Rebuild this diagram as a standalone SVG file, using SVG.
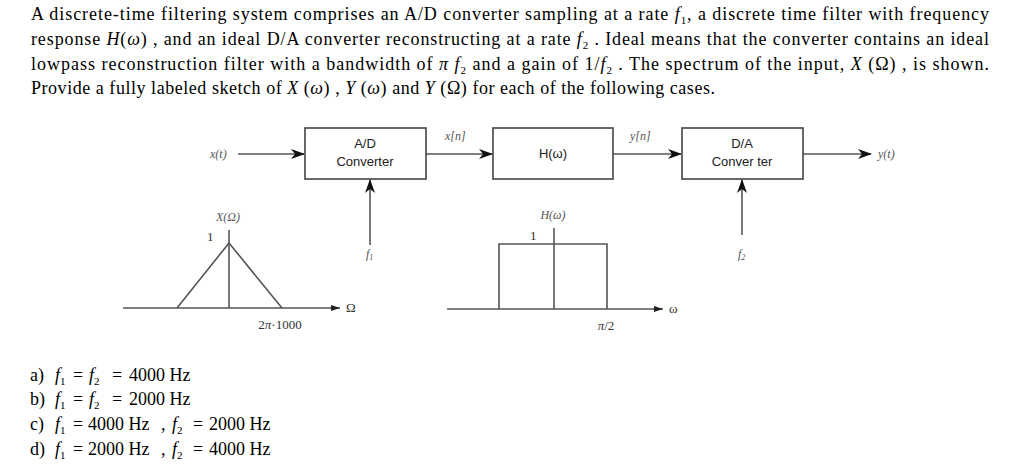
<svg xmlns="http://www.w3.org/2000/svg" width="1024" height="475" viewBox="0 0 1024 475">
<style>
.t{font-family:"Liberation Serif","Times New Roman",serif;font-size:18px;fill:#000}
.i{font-style:italic}
.s{font-size:11px}
.lb{font-family:"Liberation Sans",Arial,sans-serif;font-size:13px;fill:#222}
.il{font-family:"Liberation Serif",serif;font-style:italic;font-size:12px;fill:#555}
.nm{font-family:"Liberation Serif",serif;font-size:13px;fill:#333}
.ln{stroke:#555;stroke-width:1.6;fill:none}
.bx{stroke:#444;stroke-width:1.6;fill:#fff}
</style>
<defs>
<marker id="ah" markerWidth="14" markerHeight="10" refX="13" refY="5" orient="auto" markerUnits="userSpaceOnUse">
<path d="M0,0 L14,5 L0,10 L4,5 Z" fill="#111"/>
</marker>
<marker id="sa" markerWidth="9" markerHeight="6" refX="9" refY="3" orient="auto" markerUnits="userSpaceOnUse">
<path d="M0,0 L9,3 L0,6 Z" fill="#222"/>
</marker>
</defs>
<rect width="1024" height="475" fill="#fff"/>
<g id="problem-text">
<text class="t" x="31" y="20" textLength="958" lengthAdjust="spacing">A discrete-time filtering system comprises an A/D converter sampling at a rate <tspan class="i">f</tspan><tspan class="s" dy="4">1</tspan><tspan dy="-4">, a discrete time filter with frequency</tspan></text>
<text class="t" x="31" y="45" textLength="958" lengthAdjust="spacing">response <tspan class="i">H</tspan>(<tspan class="i">ω</tspan>) , and an ideal D/A converter reconstructing at a rate <tspan class="i">f</tspan><tspan class="s" dy="4">2</tspan><tspan dy="-4"> . Ideal means that the converter contains an ideal</tspan></text>
<text class="t" x="31" y="70" textLength="958" lengthAdjust="spacing">lowpass reconstruction filter with a bandwidth of <tspan class="i">π f</tspan><tspan class="s" dy="4">2</tspan><tspan dy="-4"> and a gain of 1/</tspan><tspan class="i">f</tspan><tspan class="s" dy="4">2</tspan><tspan dy="-4"> . The spectrum of the input, </tspan><tspan class="i">X</tspan> (Ω) , is shown.</text>
<text class="t" x="31" y="94" textLength="684" lengthAdjust="spacing">Provide a fully labeled sketch of <tspan class="i">X</tspan> (<tspan class="i">ω</tspan>) , <tspan class="i">Y</tspan> (<tspan class="i">ω</tspan>) and <tspan class="i">Y</tspan> (Ω) for each of the following cases.</text>
</g>
<g id="connectors">
<line class="ln" x1="238" y1="154" x2="304" y2="154" marker-end="url(#ah)"/>
<line class="ln" x1="426" y1="154" x2="492" y2="154" marker-end="url(#ah)"/>
<line class="ln" x1="613" y1="154" x2="681" y2="154" marker-end="url(#ah)"/>
<line class="ln" x1="803" y1="154" x2="871" y2="154" marker-end="url(#ah)"/>
<line class="ln" x1="370" y1="245" x2="370" y2="180" marker-end="url(#ah)"/>
<line class="ln" x1="742" y1="235" x2="742" y2="180" marker-end="url(#ah)"/>
</g>
<g id="ad-converter">
<rect class="bx" x="305" y="128" width="121" height="51"/>
<text class="lb" x="365" y="148" text-anchor="middle">A/D</text>
<text class="lb" x="365" y="166" text-anchor="middle">Converter</text>
</g>
<g id="filter">
<rect class="bx" x="493" y="128" width="120" height="51"/>
<text class="lb" x="553" y="158" text-anchor="middle">H(ω)</text>
</g>
<g id="da-converter">
<rect class="bx" x="682" y="128" width="121" height="51"/>
<text class="lb" x="742" y="148" text-anchor="middle">D/A</text>
<text class="lb" x="742" y="166" text-anchor="middle">Conver ter</text>
</g>
<g id="signal-labels">
<text class="il" x="210" y="158">x(t)</text>
<text class="il" x="445" y="140">x[n]</text>
<text class="il" x="630" y="140">y[n]</text>
<text class="il" x="878" y="158">y(t)</text>
<text class="il" x="366" y="258">f<tspan font-size="8" dy="2">1</tspan></text>
<text class="il" x="738" y="258">f<tspan font-size="8" dy="2">2</tspan></text>
</g>
<g id="x-spectrum">
<line class="ln" x1="123" y1="308" x2="340" y2="308" marker-end="url(#sa)"/>
<line class="ln" x1="229" y1="230" x2="229" y2="308"/>
<polyline class="ln" stroke="#333" points="177,308 229,243 282,308"/>
<text class="il" x="228" y="221" text-anchor="middle">X(Ω)</text>
<text class="nm" x="207" y="241">1</text>
<text class="nm" x="346" y="312">Ω</text>
<text class="nm" x="280" y="329" text-anchor="middle">2<tspan font-style="italic">π</tspan>·1000</text>
</g>
<g id="h-spectrum">
<line class="ln" x1="447" y1="309" x2="663" y2="309" marker-end="url(#sa)"/>
<line class="ln" x1="554" y1="228" x2="554" y2="309"/>
<polyline class="ln" points="499,309 499,244 607,244 607,309"/>
<text class="il" x="553" y="219" text-anchor="middle">H(ω)</text>
<text class="nm" x="530" y="240">1</text>
<text class="nm" x="669" y="313">ω</text>
<text class="nm" x="606" y="330" text-anchor="middle"><tspan font-style="italic">π</tspan>/2</text>
</g>
<g id="cases">
<text class="t" y="381"><tspan x="30">a)</tspan><tspan x="55" class="i">f</tspan><tspan class="s" dy="4">1</tspan><tspan x="73" dy="-4">=</tspan><tspan x="89" class="i">f</tspan><tspan class="s" dy="4">2</tspan><tspan x="112" dy="-4">=</tspan><tspan x="129">4000 Hz</tspan></text>
<text class="t" y="405"><tspan x="30">b)</tspan><tspan x="55" class="i">f</tspan><tspan class="s" dy="4">1</tspan><tspan x="73" dy="-4">=</tspan><tspan x="89" class="i">f</tspan><tspan class="s" dy="4">2</tspan><tspan x="112" dy="-4">=</tspan><tspan x="129">2000 Hz</tspan></text>
<text class="t" y="430"><tspan x="30">c)</tspan><tspan x="55" class="i">f</tspan><tspan class="s" dy="4">1</tspan><tspan x="73" dy="-4">=</tspan><tspan x="88">4000 Hz</tspan><tspan x="161">,</tspan><tspan x="172" class="i">f</tspan><tspan class="s" dy="4">2</tspan><tspan x="193" dy="-4">=</tspan><tspan x="209">2000 Hz</tspan></text>
<text class="t" y="455"><tspan x="30">d)</tspan><tspan x="55" class="i">f</tspan><tspan class="s" dy="4">1</tspan><tspan x="73" dy="-4">=</tspan><tspan x="88">2000 Hz</tspan><tspan x="161">,</tspan><tspan x="172" class="i">f</tspan><tspan class="s" dy="4">2</tspan><tspan x="193" dy="-4">=</tspan><tspan x="209">4000 Hz</tspan></text>
</g>
</svg>
